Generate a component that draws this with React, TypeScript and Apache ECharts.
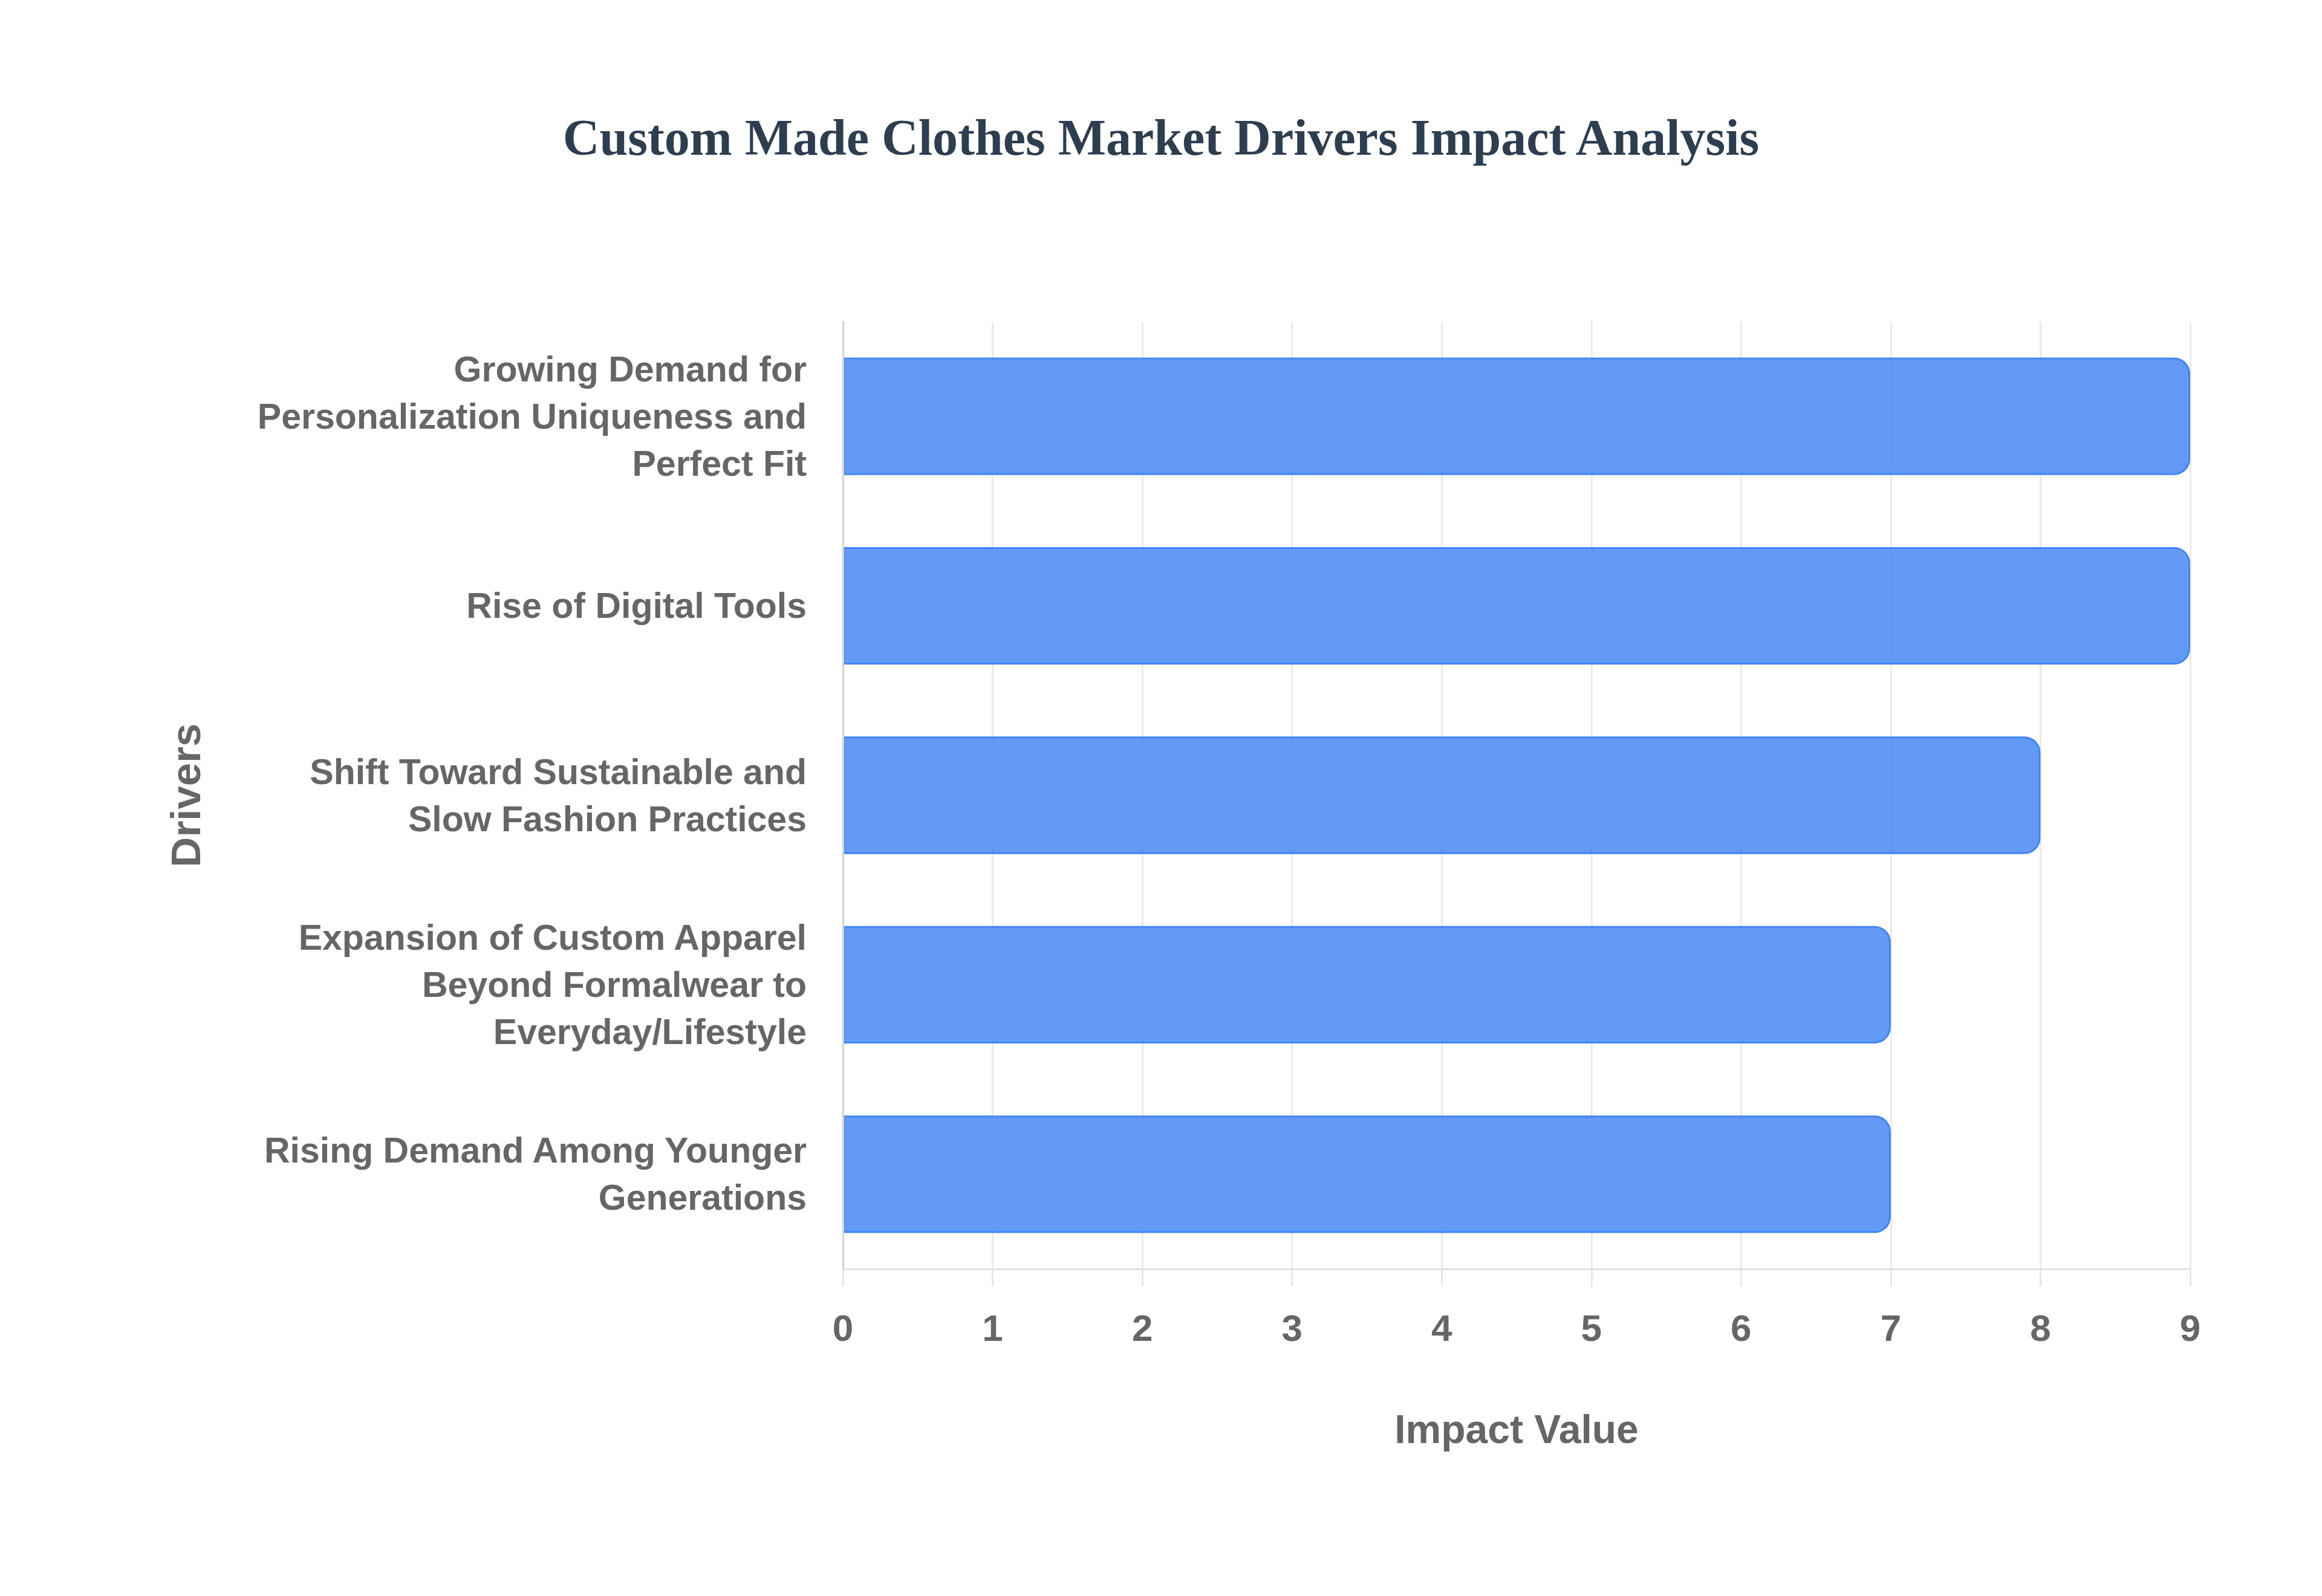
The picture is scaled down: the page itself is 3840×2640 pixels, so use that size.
import React, { useEffect, useRef } from "react";
import * as echarts from "echarts";

const titleText = "Custom Made Clothes Market Drivers Impact Analysis";
const categories = [
  "Growing Demand for\nPersonalization Uniqueness and\nPerfect Fit",
  "Rise of Digital Tools",
  "Shift Toward Sustainable and\nSlow Fashion Practices",
  "Expansion of Custom Apparel\nBeyond Formalwear to\nEveryday/Lifestyle",
  "Rising Demand Among Younger\nGenerations",
];
const impactValues = [9, 9, 8, 7, 7];
const xAxisName = "Impact Value";
const yAxisName = "Drivers";

export default function App() {
  const ref = useRef<HTMLDivElement>(null);
  useEffect(() => {
    if (!ref.current) return;
    const chart = echarts.init(ref.current, undefined, { renderer: "svg" });
    const sans = "'Liberation Sans', Arial, Helvetica, sans-serif";
    chart.setOption({
      animation: false,
      backgroundColor: "#ffffff",
      title: {
        text: titleText,
        left: "center",
        top: 180,
        textStyle: {
          fontFamily: "'Liberation Serif', 'Times New Roman', serif",
          fontWeight: "bold",
          fontSize: 84,
          color: "#2c3e50",
        },
      },
      grid: { left: 1394, right: 218, top: 532, bottom: 541, containLabel: false },
      xAxis: {
        type: "value",
        min: 0,
        max: 9,
        interval: 1,
        name: xAxisName,
        nameLocation: "middle",
        nameGap: 232,
        nameTextStyle: { fontFamily: sans, fontWeight: "bold", fontSize: 66, color: "#666666" },
        axisLine: { show: true, lineStyle: { color: "#e3e3e3", width: 3 } },
        axisTick: { show: true, length: 29, lineStyle: { color: "#e3e3e3", width: 2.5 } },
        splitLine: { show: true, lineStyle: { color: "#e6e6e6", width: 2.5 } },
        axisLabel: { fontFamily: sans, fontWeight: "bold", fontSize: 62, color: "#666666", margin: 66 },
      },
      yAxis: {
        type: "category",
        data: categories,
        inverse: true,
        z: 5,
        name: yAxisName,
        nameLocation: "middle",
        nameGap: 1052,
        nameTextStyle: { fontFamily: sans, fontWeight: "bold", fontSize: 69, color: "#666666" },
        axisLine: { show: true, lineStyle: { color: "#d4d4d4", width: 3 } },
        axisTick: { show: false },
        splitLine: { show: false },
        axisLabel: {
          fontFamily: sans,
          fontWeight: "bold",
          fontSize: 59,
          lineHeight: 78,
          color: "#666666",
          margin: 60,
          align: "right",
        },
      },
      series: [
        {
          type: "bar",
          data: impactValues,
          barCategoryGap: "38%",
          itemStyle: {
            color: "rgba(66,133,244,0.83)",
            borderColor: "#4285f4",
            borderWidth: 3,
            borderRadius: [0, 25, 25, 0],
          },
        },
      ],
    });
    return () => chart.dispose();
  }, []);
  return (
    <div
      ref={ref}
      style={{ position: "fixed", left: 0, top: 0, width: 3840, height: 2640, background: "#fff" }}
    />
  );
}
